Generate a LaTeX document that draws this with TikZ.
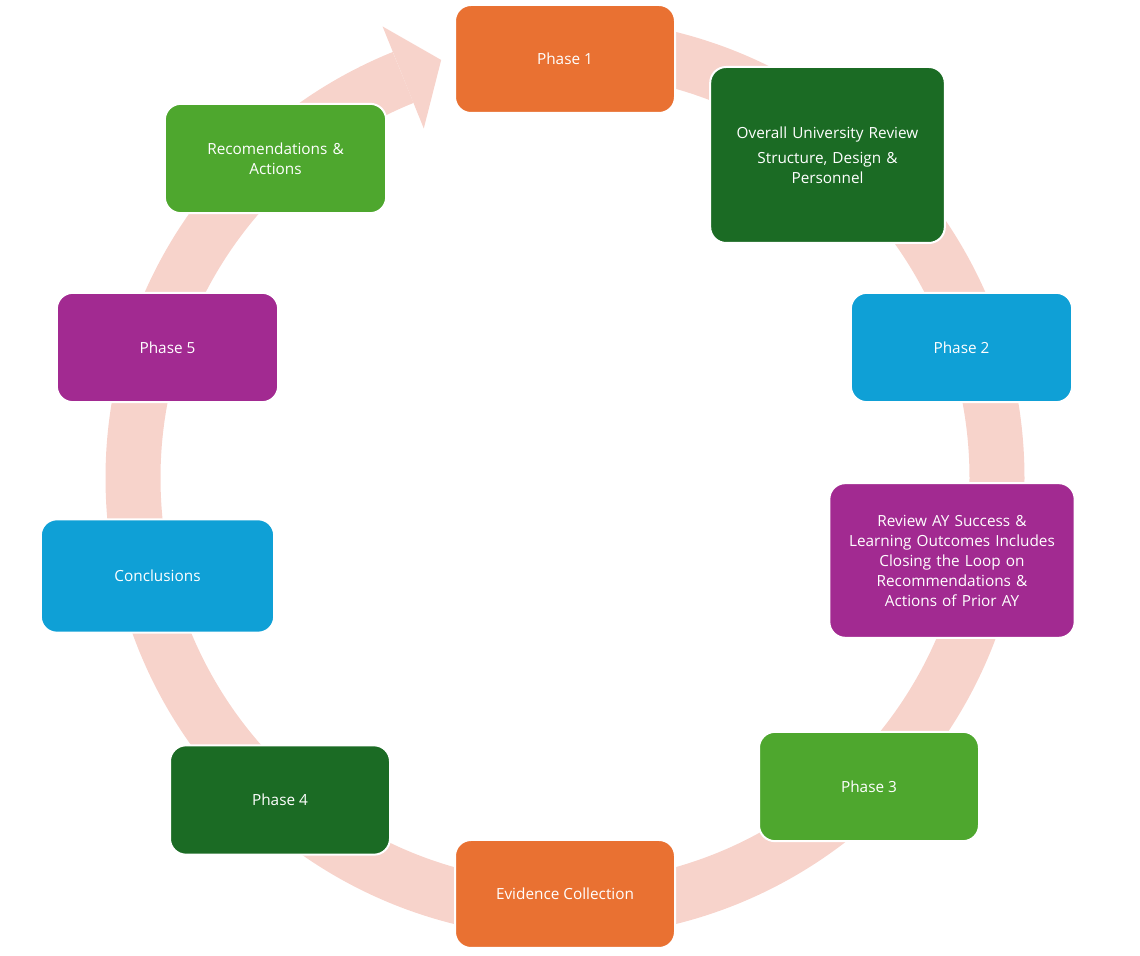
\documentclass[tikz,border=0pt]{standalone}
\usepackage{fontspec}
\setmainfont{Open Sans}
\usetikzlibrary{calc}
\begin{document}
\definecolor{cor}{HTML}{E97132}
\definecolor{cdg}{HTML}{1B6B24}
\definecolor{cbl}{HTML}{0FA0D6}
\definecolor{cpu}{HTML}{A22A91}
\definecolor{cgr}{HTML}{4EA72E}
\definecolor{cring}{HTML}{F7D3CB}
\begin{tikzpicture}[x=0.75pt,y=0.75pt,
  box/.style={draw=white,line width=1.5pt,rounded corners=12pt,text=white,align=center,font=\fontsize{11.5}{15}\selectfont,inner sep=2pt}]
\useasboundingbox (0,0) rectangle (1140,956);
\coordinate (c) at (565,478);
% ring
\draw[cring,line width=41.25pt] ($(c)+(90:432)$) arc[start angle=90,end angle=-248,radius=324pt];
\fill[cring] ($(c)+(112:377)$) -- ($(c)+(112:487)$) -- ($(c)+(106.5:436)$) -- cycle;
% boxes: centre (x, 956-y), size
\node[box,fill=cor,minimum width=165pt,minimum height=81pt] (p1) at (565,897) {Phase 1};
\node[box,fill=cdg,minimum width=176pt,minimum height=132pt,text width=170pt] (ou) at (827.5,801) {Overall University Review\\[4pt]Structure, Design \&\\Personnel};
\node[box,fill=cbl,minimum width=166pt,minimum height=82pt] (p2) at (961.5,608.5) {Phase 2};
\node[box,fill=cpu,minimum width=184pt,minimum height=116pt,text width=178pt] (rv) at (952,395.5) {Review AY Success \&\\Learning Outcomes Includes\\Closing the Loop on\\Recommendations \&\\Actions of Prior AY};
\node[box,fill=cgr,minimum width=165pt,minimum height=82pt] (p3) at (869,169.5) {Phase 3};
\node[box,fill=cor,minimum width=165pt,minimum height=81pt] (ev) at (565,62) {Evidence Collection};
\node[box,fill=cdg,minimum width=165pt,minimum height=82pt] (p4) at (280,156) {Phase 4};
\node[box,fill=cbl,minimum width=175pt,minimum height=85pt] (co) at (157.5,380) {Conclusions};
\node[box,fill=cpu,minimum width=166pt,minimum height=82pt] (p5) at (167.5,608.5) {Phase 5};
\node[box,fill=cgr,minimum width=166pt,minimum height=82pt,text width=160pt] (re) at (275.5,797.5) {Recomendations \&\\Actions};
\end{tikzpicture}
\end{document}
